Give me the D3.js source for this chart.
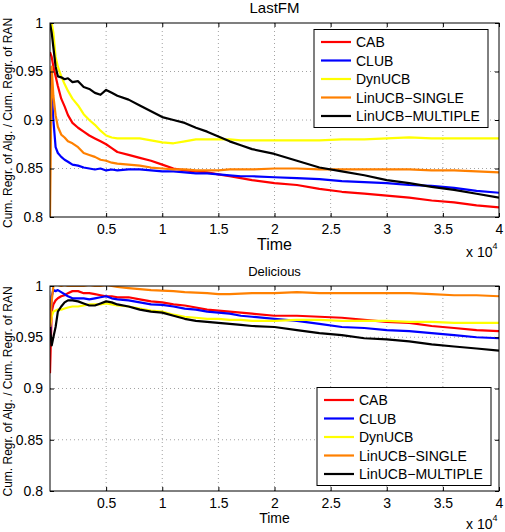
<!DOCTYPE html>
<html>
<head>
<meta charset="utf-8">
<script src="https://cdn.jsdelivr.net/npm/d3@7"></script>
<style>
  body { margin: 0; background: #fff; }
  svg { display: block; font-family: "Liberation Sans", Arial, sans-serif; }
</style>
</head>
<body>
<svg></svg>
<script>
// Canvas size
var w = 505;
var h = 532;

// Shared time grid (samples)
var times = [0, 150, 300, 500, 700, 1000, 1300, 1600, 2000, 2500, 3000, 3500, 4000, 4500, 5000,
  5500, 6000, 7000, 8000, 9000, 10000, 11000, 12000, 13000, 14000, 15000, 16000, 17000, 18000,
  20000, 22000, 24000, 26000, 28000, 30000, 32000, 34000, 36000, 38000, 40000];

var algNames = ["CAB", "CLUB", "DynUCB", "LinUCB\u2212SINGLE", "LinUCB\u2212MULTIPLE"];
var algColors = ["#ff0000", "#0000ff", "#ffff00", "#ff8000", "#000000"];

var xTicks = [5000, 10000, 15000, 20000, 25000, 30000, 35000, 40000];
var yTicks = [0.8, 0.85, 0.9, 0.95, 1];

// LastFM
var lastfmCAB = [0.97, 0.965, 0.955, 0.945, 0.935, 0.922, 0.914, 0.905, 0.897, 0.892, 0.888, 0.884, 0.881, 0.878, 0.875,
  0.871, 0.867, 0.864, 0.861, 0.858, 0.854, 0.850, 0.848, 0.847, 0.846, 0.844, 0.842, 0.840, 0.838,
  0.835, 0.833, 0.829, 0.826, 0.824, 0.822, 0.820, 0.817, 0.815, 0.812, 0.810];
var lastfmCLUB = [0.95, 0.93, 0.90, 0.872, 0.866, 0.862, 0.859, 0.857, 0.854, 0.853, 0.851, 0.850, 0.849, 0.850, 0.848,
  0.849, 0.848, 0.849, 0.849, 0.848, 0.847, 0.847, 0.846, 0.845, 0.845, 0.844, 0.843, 0.842, 0.842,
  0.841, 0.840, 0.839, 0.837, 0.836, 0.835, 0.833, 0.832, 0.830, 0.827, 0.825];
var lastfmDyn = [1.02, 1.0, 0.99, 0.965, 0.955, 0.945, 0.937, 0.930, 0.922, 0.915, 0.906, 0.900, 0.895, 0.889, 0.884,
  0.882, 0.881, 0.881, 0.881, 0.879, 0.877, 0.876, 0.878, 0.880, 0.880, 0.880, 0.880, 0.879, 0.879,
  0.879, 0.879, 0.879, 0.880, 0.880, 0.881, 0.882, 0.881, 0.881, 0.881, 0.881];
var lastfmSingle = [0.80, 0.955, 0.925, 0.905, 0.893, 0.885, 0.882, 0.878, 0.876, 0.872, 0.866, 0.864, 0.862, 0.859, 0.858,
  0.856, 0.855, 0.854, 0.853, 0.851, 0.850, 0.849, 0.849, 0.848, 0.848, 0.848, 0.849, 0.849, 0.849,
  0.850, 0.850, 0.849, 0.849, 0.849, 0.849, 0.849, 0.848, 0.848, 0.847, 0.846];
var lastfmMultiple = [1.0, 0.99, 0.975, 0.955, 0.945, 0.944, 0.942, 0.943, 0.939, 0.940, 0.934, 0.932, 0.928, 0.926, 0.931,
  0.928, 0.925, 0.921, 0.915, 0.909, 0.903, 0.900, 0.897, 0.892, 0.888, 0.883, 0.878, 0.874, 0.870,
  0.865, 0.858, 0.851, 0.847, 0.843, 0.838, 0.835, 0.831, 0.828, 0.824, 0.820];

// Delicious
var deliciousCAB = [0.915, 0.975, 0.982, 0.986, 0.988, 0.990, 0.991, 0.993, 0.995, 0.995, 0.993, 0.993, 0.992, 0.991, 0.990,
  0.990, 0.989, 0.989, 0.987, 0.985, 0.984, 0.982, 0.981, 0.979, 0.977, 0.976, 0.975, 0.974, 0.973,
  0.971, 0.971, 0.970, 0.969, 0.967, 0.965, 0.964, 0.961, 0.959, 0.957, 0.956];
var deliciousCLUB = [0.95, 0.990, 0.996, 0.995, 0.996, 0.994, 0.992, 0.990, 0.988, 0.988, 0.988, 0.987, 0.988, 0.989, 0.990,
  0.988, 0.987, 0.986, 0.984, 0.982, 0.9815, 0.980, 0.978, 0.977, 0.975, 0.974, 0.973, 0.971, 0.970,
  0.968, 0.966, 0.963, 0.960, 0.959, 0.957, 0.956, 0.954, 0.952, 0.950, 0.949];
var deliciousDyn = [0.96, 0.970, 0.975, 0.976, 0.977, 0.977, 0.978, 0.979, 0.980, 0.980, 0.981, 0.982, 0.982, 0.982, 0.983,
  0.982, 0.981, 0.980, 0.978, 0.976, 0.975, 0.972, 0.970, 0.969, 0.968, 0.968, 0.967, 0.967, 0.966,
  0.966, 0.967, 0.967, 0.966, 0.966, 0.966, 0.965, 0.965, 0.964, 0.964, 0.964];
var deliciousSingle = [0.96, 0.985, 1.0, 1.002, 1.001, 1.0, 1.001, 1.0, 1.0, 1.0, 1.0, 1.001, 1.0, 1.0, 1.001,
  1.0, 0.999, 0.998, 0.997, 0.996, 0.9955, 0.995, 0.994, 0.9935, 0.993, 0.992, 0.992, 0.9925, 0.993,
  0.993, 0.994, 0.993, 0.993, 0.993, 0.993, 0.993, 0.992, 0.991, 0.991, 0.990];
var deliciousMultiple = [0.96, 0.942, 0.95, 0.96, 0.975, 0.980, 0.984, 0.986, 0.986, 0.985, 0.983, 0.981, 0.981, 0.983, 0.985,
  0.984, 0.982, 0.980, 0.977, 0.975, 0.974, 0.971, 0.968, 0.966, 0.965, 0.964, 0.963, 0.962, 0.961,
  0.960, 0.957, 0.954, 0.952, 0.949, 0.948, 0.946, 0.943, 0.941, 0.939, 0.937];

var svg = d3.select("svg")
    .attr("width", w)
    .attr("height", h);

// Draw one panel
function drawPanel(cfg) {
    var x = d3.scaleLinear().domain([0, 40000]).range([cfg.left, cfg.right]);
    var y = d3.scaleLinear().domain([0.8, 1]).range([cfg.bottom, cfg.top]);

    var g = svg.append("g");

    g.append("clipPath").attr("id", cfg.id + "-clip")
        .append("rect")
        .attr("x", cfg.left).attr("y", cfg.top)
        .attr("width", cfg.right - cfg.left).attr("height", cfg.bottom - cfg.top);

    // dotted grid
    g.selectAll(".vgrid").data(xTicks.slice(0, -1)).enter().append("line")
        .attr("x1", d => x(d)).attr("x2", d => x(d))
        .attr("y1", cfg.top).attr("y2", cfg.bottom)
        .attr("stroke", "#8c8c8c").attr("stroke-width", 0.8)
        .attr("stroke-dasharray", "1,3");
    g.selectAll(".hgrid").data(yTicks.slice(1, -1)).enter().append("line")
        .attr("x1", cfg.left).attr("x2", cfg.right)
        .attr("y1", d => y(d)).attr("y2", d => y(d))
        .attr("stroke", "#8c8c8c").attr("stroke-width", 0.8)
        .attr("stroke-dasharray", "1,3");

    // curves
    var line = d3.line()
        .x((d, i) => x(times[i]))
        .y(d => y(d));
    var curves = g.append("g").attr("clip-path", "url(#" + cfg.id + "-clip)");
    cfg.series.forEach(function (s, i) {
        curves.append("path")
            .datum(s)
            .attr("d", line)
            .attr("fill", "none")
            .attr("stroke", algColors[i])
            .attr("stroke-width", 2.2)
            .attr("stroke-linejoin", "round");
    });

    // axes box with inward ticks
    g.append("rect")
        .attr("x", cfg.left).attr("y", cfg.top)
        .attr("width", cfg.right - cfg.left).attr("height", cfg.bottom - cfg.top)
        .attr("fill", "none").attr("stroke", "#000").attr("stroke-width", 1);

    var xAxisB = d3.axisBottom(x).tickValues(xTicks).tickSizeInner(-4).tickSizeOuter(0)
        .tickPadding(7).tickFormat(d => d / 10000);
    var xAxisT = d3.axisTop(x).tickValues(xTicks).tickSizeInner(-4).tickSizeOuter(0).tickFormat("");
    var yAxisL = d3.axisLeft(y).tickValues(yTicks).tickSizeInner(-4).tickSizeOuter(0)
        .tickPadding(7).tickFormat(d3.format("~g"));
    var yAxisR = d3.axisRight(y).tickValues(yTicks).tickSizeInner(-4).tickSizeOuter(0).tickFormat("");

    [[xAxisB, "translate(0," + cfg.bottom + ")"], [xAxisT, "translate(0," + cfg.top + ")"],
     [yAxisL, "translate(" + cfg.left + ",0)"], [yAxisR, "translate(" + cfg.right + ",0)"]]
        .forEach(function (a) {
            var ax = g.append("g").attr("transform", a[1]).call(a[0]);
            ax.select(".domain").remove();
            ax.selectAll("text").attr("fill", "#000")
                .style("font-size", cfg.tickFont + "px")
                .style("font-family", "'Liberation Sans', Arial, sans-serif");
        });

    // title
    g.append("text")
        .attr("x", (cfg.left + cfg.right) / 2).attr("y", cfg.titleY)
        .attr("text-anchor", "middle").style("font-size", cfg.titleFont + "px")
        .text(cfg.title);

    // x label
    g.append("text")
        .attr("x", (cfg.left + cfg.right) / 2).attr("y", cfg.xLabelY)
        .attr("text-anchor", "middle").style("font-size", cfg.xLabelFont + "px")
        .text("Time");

    // x 10^4 exponent
    var ex = g.append("text")
        .attr("x", 466).attr("y", cfg.expY)
        .style("font-size", "14px");
    ex.append("tspan").text("x 10");
    ex.append("tspan").attr("dy", -8).style("font-size", "9px").text("4");

    // y label
    g.append("text")
        .attr("transform", "translate(12," + ((cfg.top + cfg.bottom) / 2 + 3) + ") rotate(-90)")
        .attr("text-anchor", "middle").style("font-size", "12px")
        .text("Cum. Regr. of Alg. / Cum. Regr. of RAN");

    // legend
    var lg = g.append("g").attr("transform", "translate(" + cfg.legX + "," + cfg.legY + ")");
    lg.append("rect")
        .attr("width", 174).attr("height", 98)
        .attr("fill", "#fff").attr("stroke", "#000").attr("stroke-width", 1);
    algNames.forEach(function (name, i) {
        var yy = 12.5 + i * 18.5;
        lg.append("line")
            .attr("x1", 7).attr("x2", 37).attr("y1", yy).attr("y2", yy)
            .attr("stroke", algColors[i]).attr("stroke-width", 2.2);
        lg.append("text")
            .attr("x", 42).attr("y", yy).attr("dy", "0.36em")
            .style("font-size", "14px")
            .text(name);
    });
}

drawPanel({
    id: "lastfm", title: "LastFM",
    left: 50, right: 499, top: 23, bottom: 217,
    titleY: 13, titleFont: 15, tickFont: 14,
    xLabelY: 250, xLabelFont: 16, expY: 257,
    legX: 314, legY: 29.5,
    series: [lastfmCAB, lastfmCLUB, lastfmDyn, lastfmSingle, lastfmMultiple]
});

drawPanel({
    id: "delicious", title: "Delicious",
    left: 50, right: 499, top: 286, bottom: 491,
    titleY: 276, titleFont: 13, tickFont: 14,
    xLabelY: 523, xLabelFont: 14, expY: 529,
    legX: 317, legY: 387.5,
    series: [deliciousCAB, deliciousCLUB, deliciousDyn, deliciousSingle, deliciousMultiple]
});
</script>
</body>
</html>
